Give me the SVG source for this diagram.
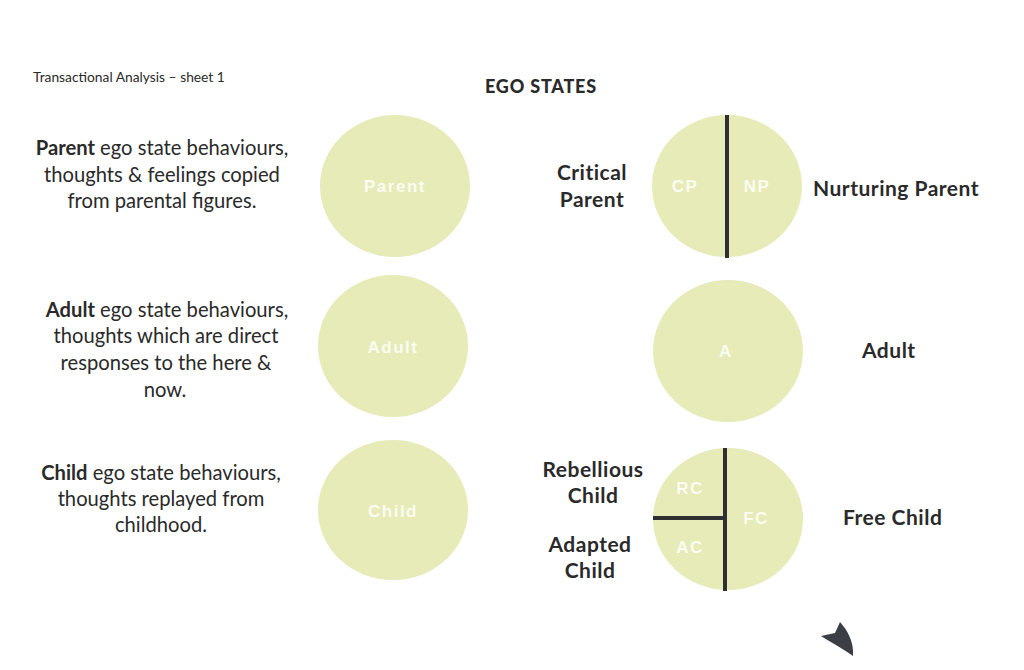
<svg xmlns="http://www.w3.org/2000/svg" width="1024" height="670" viewBox="0 0 1024 670">
<style>
.bg{fill:#ffffff}
.disc{fill:#e6ebb7}
.div{stroke:#2e2f33;stroke-width:4;stroke-linecap:butt}
.body{font-family:Lato,"Open Sans","Liberation Sans",sans-serif;font-size:20.2px;fill:#2a2a2a;text-anchor:middle}
.b{font-weight:bold}
.lbl{font-family:Lato,"Open Sans","Liberation Sans",sans-serif;font-size:21px;font-weight:bold;fill:#2a2a2a;letter-spacing:0.5px}
.in{font-family:"Liberation Sans",Arial,sans-serif;font-size:17px;font-weight:bold;fill:#fbfcf2;text-anchor:middle;letter-spacing:1.5px}
</style>
<rect class="bg" x="0" y="0" width="1024" height="670"/>
<text x="33" y="82" font-family="Lato,'Open Sans','Liberation Sans',sans-serif" font-size="13.8" fill="#2a2a2a">Transactional Analysis – sheet 1</text>
<text x="485" y="93" font-family="Lato,'Liberation Sans',sans-serif" font-size="18" font-weight="900" fill="#2a2a2a" letter-spacing="0.8">EGO STATES</text>

<g id="parent-desc">
<text class="body" x="162" y="155"><tspan class="b">Parent</tspan> ego state behaviours,</text>
<text class="body" x="162" y="182">thoughts &amp; feelings copied</text>
<text class="body" x="162" y="208">from parental figures.</text>
</g>
<g id="adult-desc">
<text class="body" x="167" y="317"><tspan class="b">Adult</tspan> ego state behaviours,</text>
<text class="body" x="166" y="343">thoughts which are direct</text>
<text class="body" x="166" y="370">responses to the here &amp;</text>
<text class="body" x="165" y="397">now.</text>
</g>
<g id="child-desc">
<text class="body" x="161" y="480"><tspan class="b">Child</tspan> ego state behaviours,</text>
<text class="body" x="161" y="506">thoughts replayed from</text>
<text class="body" x="161" y="532">childhood.</text>
</g>

<g id="parent-circle">
<ellipse class="disc" cx="395" cy="186" rx="75" ry="71"/>
<text class="in" x="395" y="192">Parent</text>
</g>
<g id="adult-circle">
<ellipse class="disc" cx="393" cy="346" rx="75" ry="71"/>
<text class="in" x="393" y="353">Adult</text>
</g>
<g id="child-circle">
<ellipse class="disc" cx="393" cy="510" rx="75" ry="70"/>
<text class="in" x="393" y="517">Child</text>
</g>

<g id="parent-split">
<ellipse class="disc" cx="727" cy="186" rx="75" ry="71"/>
<text class="in" x="685" y="192">CP</text>
<text class="in" x="757" y="192">NP</text>
</g>
<g id="adult-split">
<ellipse class="disc" cx="728" cy="351" rx="75" ry="71"/>
<text class="in" x="726" y="357">A</text>
</g>
<g id="child-split">
<ellipse class="disc" cx="728" cy="519" rx="75" ry="71"/>
<text class="in" x="690" y="494">RC</text>
<text class="in" x="690" y="553">AC</text>
<text class="in" x="756" y="524">FC</text>
</g>

<g id="dividers">
<line class="div" x1="727" y1="115" x2="727" y2="258"/>
<line class="div" x1="725" y1="448" x2="725" y2="591"/>
<line class="div" x1="653" y1="518" x2="725" y2="518"/>
</g>

<g id="labels">
<text class="lbl" x="592" y="180" text-anchor="middle">Critical</text>
<text class="lbl" x="592" y="207" text-anchor="middle">Parent</text>
<text class="lbl" x="813" y="196">Nurturing Parent</text>
<text class="lbl" x="862" y="358">Adult</text>
<text class="lbl" x="593" y="477" text-anchor="middle">Rebellious</text>
<text class="lbl" x="593" y="503" text-anchor="middle">Child</text>
<text class="lbl" x="590" y="552" text-anchor="middle">Adapted</text>
<text class="lbl" x="590" y="578" text-anchor="middle">Child</text>
<text class="lbl" x="843" y="525">Free Child</text>
</g>

<path d="M840,622 C847,630 854,641 853,656 C845,650 834,644 821,636 L835,633 Z" fill="#3b3e44"/>
</svg>
